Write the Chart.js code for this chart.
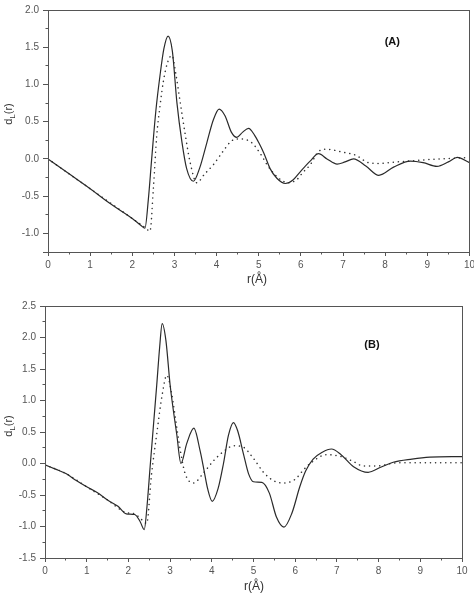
<!DOCTYPE html>
<html>
<head>
<meta charset="utf-8">
<script src="https://cdn.jsdelivr.net/npm/chart.js@4.4.1/dist/chart.umd.min.js"></script>
<style>
  html, body { margin: 0; padding: 0; background: #fff; overflow: hidden; }
  #wrap { position: relative; width: 474px; height: 596px; overflow: hidden; }
  .box { position: absolute; left: 0; }
</style>
</head>
<body>
<div id="wrap">
  <div class="box" style="top:0;width:478px;height:296px"><canvas id="chartA"></canvas></div>
  <div class="box" style="top:296px;width:474px;height:300px"><canvas id="chartB"></canvas></div>
</div>
<script>
// ---------- data ----------
// panel (A): solid curve
const rSolidA = [0, 0.5, 1.0, 1.5, 2.0, 2.2, 2.30, 2.38, 2.46, 2.56, 2.66, 2.75, 2.85, 2.95, 3.06, 3.18, 3.29, 3.45, 3.60, 3.77, 3.92, 4.06, 4.20, 4.35, 4.48, 4.62, 4.76, 4.90, 5.00, 5.12, 5.27, 5.43, 5.63, 5.82, 5.99, 6.22, 6.42, 6.62, 6.86, 7.05, 7.25, 7.55, 7.85, 8.2, 8.6, 8.9, 9.23, 9.5, 9.71, 10];
const dSolidA = [0, -0.20, -0.40, -0.61, -0.80, -0.89, -0.93, -0.55, 0.0, 0.65, 1.13, 1.48, 1.65, 1.45, 0.75, 0.22, -0.13, -0.30, -0.12, 0.22, 0.52, 0.67, 0.58, 0.36, 0.29, 0.36, 0.41, 0.32, 0.22, 0.08, -0.13, -0.26, -0.33, -0.28, -0.17, -0.03, 0.07, 0.0, -0.07, -0.04, 0.0, -0.10, -0.22, -0.11, -0.03, -0.05, -0.10, -0.04, 0.02, -0.05];
// panel (A): dotted curve
const rDotA = [0, 0.5, 1.0, 1.5, 2.0, 2.3, 2.42, 2.50, 2.58, 2.66, 2.74, 2.84, 2.94, 3.04, 3.14, 3.25, 3.37, 3.53, 3.72, 3.92, 4.15, 4.35, 4.55, 4.83, 5.04, 5.20, 5.35, 5.55, 5.70, 5.90, 6.05, 6.22, 6.42, 6.60, 7.0, 7.3, 7.6, 7.8, 8.3, 9.0, 10];
const dDotA = [0, -0.20, -0.40, -0.60, -0.80, -0.92, -0.97, -0.40, 0.31, 0.72, 1.05, 1.30, 1.39, 1.12, 0.75, 0.35, -0.04, -0.32, -0.20, -0.08, 0.10, 0.24, 0.27, 0.22, 0.07, -0.08, -0.19, -0.29, -0.32, -0.28, -0.18, -0.08, 0.10, 0.13, 0.09, 0.05, -0.05, -0.06, -0.04, -0.01, 0.02];

// panel (B): solid curve
const rSolidB = [0, 0.25, 0.5, 0.75, 1.0, 1.25, 1.5, 1.75, 1.95, 2.15, 2.28, 2.38, 2.45, 2.52, 2.60, 2.68, 2.75, 2.81, 2.90, 3.0, 3.16, 3.26, 3.4, 3.57, 3.72, 3.8, 3.9, 4.01, 4.15, 4.28, 4.4, 4.52, 4.62, 4.76, 4.88, 5.0, 5.2, 5.38, 5.55, 5.73, 5.92, 6.11, 6.25, 6.43, 6.65, 6.87, 7.1, 7.4, 7.75, 8.05, 8.35, 8.8, 9.23, 10];
const dSolidB = [-0.02, -0.09, -0.16, -0.27, -0.37, -0.46, -0.58, -0.68, -0.80, -0.81, -0.92, -1.05, -0.65, -0.06, 0.60, 1.25, 1.85, 2.22, 1.95, 1.25, 0.46, 0.0, 0.32, 0.56, 0.20, -0.06, -0.40, -0.60, -0.40, 0.0, 0.45, 0.65, 0.52, 0.15, -0.16, -0.29, -0.30, -0.47, -0.85, -1.01, -0.79, -0.37, -0.12, 0.07, 0.18, 0.23, 0.14, -0.05, -0.14, -0.06, 0.02, 0.07, 0.10, 0.11];
// panel (B): dotted curve
const rDotB = [0, 0.5, 1.0, 1.5, 1.95, 2.15, 2.3, 2.44, 2.55, 2.68, 2.8, 2.92, 3.04, 3.16, 3.26, 3.36, 3.56, 3.8, 4.05, 4.3, 4.52, 4.72, 5.0, 5.24, 5.5, 5.72, 6.0, 6.2, 6.36, 6.75, 7.1, 7.4, 7.63, 7.95, 8.44, 10];
const dDotB = [-0.02, -0.16, -0.37, -0.58, -0.78, -0.80, -0.88, -0.95, -0.20, 0.47, 1.05, 1.40, 1.10, 0.57, 0.15, -0.16, -0.31, -0.15, 0.05, 0.20, 0.28, 0.27, 0.08, -0.14, -0.28, -0.31, -0.25, -0.10, 0.0, 0.14, 0.11, 0.03, -0.04, -0.04, 0.01, 0.01];

// axis ranges / tick spacing
const xRange = [0, 10];
const yRangeA = [-1.25, 2.0];
const yRangeB = [-1.5, 2.5];
const majorStepX = 1, minorStepX = 0.5;
const majorStepY = 0.5, minorStepY = 0.25;

const FONT = '"Liberation Sans", Arial, sans-serif';
const INK = '#555';

// ---------- helpers ----------
function pts(xs, ys) { return xs.map((x, i) => ({ x: x, y: ys[i] })); }

// label only values that sit on the major step
function onStep(v, step) { return Math.abs(v / step - Math.round(v / step)) < 1e-6; }

const decor = {
  id: 'decor',
  afterDraw(chart, args, o) {
    const { ctx, chartArea: a, scales } = chart;
    ctx.save();
    // full frame
    ctx.strokeStyle = INK;
    ctx.lineWidth = 1;
    ctx.strokeRect(Math.round(a.left) + 0.5, Math.round(a.top) + 0.5,
      Math.round(a.right - a.left), Math.round(a.bottom - a.top));
    // panel tag
    ctx.fillStyle = '#111';
    ctx.font = 'bold 11px ' + FONT;
    ctx.textAlign = 'center';
    ctx.textBaseline = 'middle';
    ctx.fillText(o.tag, scales.x.getPixelForValue(o.tagAt[0]), scales.y.getPixelForValue(o.tagAt[1]));
    // x title
    ctx.fillStyle = '#333';
    ctx.font = '12px ' + FONT;
    ctx.fillText('r(Å)', o.xTitle[0], o.xTitle[1]);
    // y title d_L(r), rotated
    ctx.translate(o.yTitle[0], o.yTitle[1]);
    ctx.rotate(-Math.PI / 2);
    ctx.textAlign = 'left';
    ctx.font = '11px ' + FONT;
    const wd = ctx.measureText('d').width, wr = ctx.measureText('(r)').width;
    ctx.font = '8px ' + FONT;
    const wl = ctx.measureText('L').width;
    let x0 = -(wd + wl + wr) / 2;
    ctx.font = '11px ' + FONT;
    ctx.fillText('d', x0, 0);
    ctx.font = '8px ' + FONT;
    ctx.fillText('L', x0 + wd, 4);
    ctx.font = '11px ' + FONT;
    ctx.fillText('(r)', x0 + wd + wl, 0);
    ctx.restore();
  }
};

function makeScales(yRange, yWidth, xHeight) {
  const tickFont = { family: FONT, size: 10 };
  return {
    x: {
      type: 'linear', position: 'bottom', weight: 1,
      min: xRange[0], max: xRange[1],
      ticks: { stepSize: majorStepX, padding: 3, color: INK, font: tickFont, maxRotation: 0,
        callback: (v) => onStep(v, majorStepX) ? String(v) : '' },
      grid: { drawOnChartArea: false, tickLength: 4, color: INK },
      border: { color: INK },
      afterFit: (s) => { s.height = xHeight; }
    },
    xMinor: {
      type: 'linear', position: 'bottom', weight: 0,
      min: xRange[0], max: xRange[1],
      ticks: { stepSize: minorStepX, display: false },
      grid: { drawOnChartArea: false, tickLength: 2.5, color: INK },
      border: { display: false },
      afterFit: (s) => { s.height = 0; }
    },
    y: {
      type: 'linear', position: 'left', weight: 1,
      min: yRange[0], max: yRange[1],
      ticks: { stepSize: majorStepY, padding: 4, color: INK, font: tickFont,
        callback: (v) => onStep(v, majorStepY) ? v.toFixed(1) : '' },
      grid: { drawOnChartArea: false, tickLength: 5, color: INK },
      border: { color: INK },
      afterFit: (s) => { s.width = yWidth; }
    },
    yMinor: {
      type: 'linear', position: 'left', weight: 0,
      min: yRange[0], max: yRange[1],
      ticks: { stepSize: minorStepY, display: false },
      grid: { drawOnChartArea: false, tickLength: 2.5, color: INK },
      border: { display: false },
      afterFit: (s) => { s.width = 0; }
    }
  };
}

function makeChart(id, solid, dotted, yRange, geom) {
  return new Chart(document.getElementById(id).getContext('2d'), {
    type: 'line',
    data: {
      datasets: [
        {
          label: 'solid',
          data: solid,
          borderColor: '#2a2a2a',
          borderWidth: 1.2,
          pointRadius: 0,
          fill: false,
          cubicInterpolationMode: 'monotone'
        },
        {
          label: 'dotted',
          data: dotted,
          borderColor: '#333',
          borderWidth: 1.5,
          borderDash: [0.1, 5],
          borderCapStyle: 'round',
          pointRadius: 0,
          fill: false,
          cubicInterpolationMode: 'monotone'
        }
      ]
    },
    options: {
      responsive: true,
      maintainAspectRatio: false,
      animation: false,
      parsing: false,
      layout: { padding: geom.padding },
      scales: makeScales(yRange, geom.yWidth, geom.xHeight),
      plugins: {
        legend: { display: false },
        tooltip: { enabled: false },
        decor: geom.decor
      }
    },
    plugins: [decor]
  });
}

makeChart('chartA', pts(rSolidA, dSolidA), pts(rDotA, dDotA), yRangeA, {
  padding: { top: 5, right: 0, left: 0, bottom: 0 },
  yWidth: 48, xHeight: 44,
  decor: { tag: '(A)', tagAt: [8.17, 1.57], xTitle: [257, 280], yTitle: [9, 114] }
});

makeChart('chartB', pts(rSolidB, dSolidB), pts(rDotB, dDotB), yRangeB, {
  padding: { top: 7, right: 12, left: 0, bottom: 0 },
  yWidth: 45, xHeight: 38,
  decor: { tag: '(B)', tagAt: [7.84, 1.875], xTitle: [254, 291], yTitle: [9, 130] }
});
</script>
</body>
</html>
